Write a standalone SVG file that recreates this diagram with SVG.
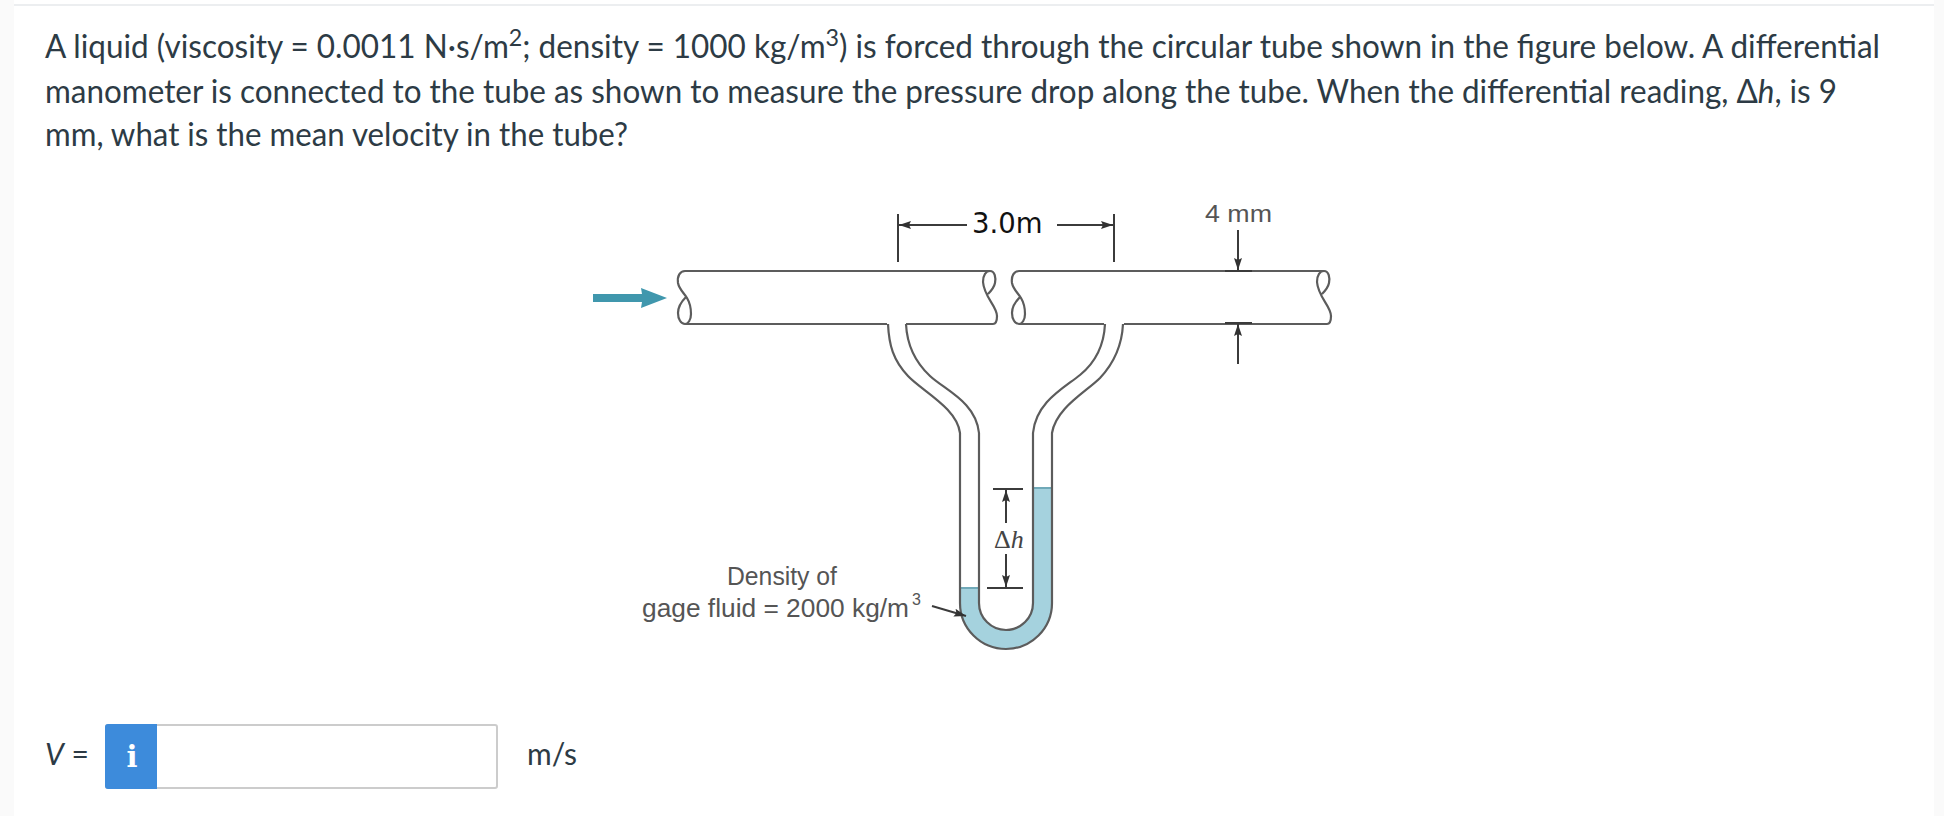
<svg xmlns="http://www.w3.org/2000/svg" width="1944" height="816" viewBox="0 0 1944 816">
<style>
.q{font-family:"Lato","Liberation Sans",sans-serif;font-size:32.5px;fill:#2d3b45}
.a{font-family:"Lato","Liberation Sans",sans-serif;font-size:30px;fill:#2d3b45}
.fig{font-family:"Liberation Sans",Arial,sans-serif;fill:#555}
.t{fill:none;stroke:#5c5c5c;stroke-width:2.2;stroke-linejoin:round}
.d{fill:none;stroke:#3a3a3a;stroke-width:2}
</style>
<defs>
<marker id="a" markerWidth="14" markerHeight="10" refX="12" refY="4" orient="auto" markerUnits="userSpaceOnUse"><path d="M0,0L12,4L0,8L2,4Z" fill="#333"/></marker>
<filter id="soft" x="-5%" y="-5%" width="110%" height="110%"><feGaussianBlur stdDeviation="0.45"/></filter>
<path id="endL" class="t" d="M685,271C680,271 677,276 678,283C679,289 684,293 687,298C690,303 691,309 691,314C691,320 688,324 685,324C681,324 678,319 678,313C678,307 681,302 686,297"/>
<path id="endR" class="t" d="M993,324C996,324 997,321 997,316C997,306 984,297 983,282C983,275 986,271 990,271C995,271 996,278 995,283C994,288 991,291 988,294"/>
</defs>
<rect width="1944" height="816" fill="#fff"/>
<rect x="0" y="0" width="14" height="816" fill="#fafafa"/>
<rect x="1934" y="0" width="10" height="816" fill="#fafafa"/>
<rect x="14" y="4" width="1920" height="2" fill="#eceef0"/>
<g id="question">
<text class="q" x="45" y="58" textLength="1835" lengthAdjust="spacingAndGlyphs">A liquid (viscosity = 0.0011 N·s/m<tspan dy="-12" font-size="24">2</tspan><tspan dy="12">; density = 1000 kg/m</tspan><tspan dy="-12" font-size="24">3</tspan><tspan dy="12">) is forced through the circular tube shown in the figure below. A differential</tspan></text>
<text class="q" x="45" y="103" textLength="1792" lengthAdjust="spacingAndGlyphs">manometer is connected to the tube as shown to measure the pressure drop along the tube. When the differential reading, Δ<tspan font-style="italic">h</tspan>, is 9</text>
<text class="q" x="45" y="146" textLength="583" lengthAdjust="spacingAndGlyphs">mm, what is the mean velocity in the tube?</text>
</g>
<g id="figure" filter="url(#soft)">
<g id="manometer-fluid">
<path d="M960,588H979V603A27,27 0 0 0 1033,603V488H1052V603A46,46 0 0 1 960,603Z" fill="#a5d2de"/>
<path d="M960,588H979M1033,488H1052" stroke="#6fa9b8" stroke-width="2"/>
</g>
<g id="pipe-left">
<path class="t" d="M685,271H990M993,324H906M887,324H685"/>
<use href="#endL"/>
<use href="#endR"/>
</g>
<g id="pipe-right">
<path class="t" d="M1019,271H1324M1327,324H1124M1104,324H1019"/>
<use href="#endL" x="334"/>
<use href="#endR" x="334"/>
</g>
<g id="u-tube">
<path class="t" d="M888,324C889,345 893,360 908,376C922,391 957,408 960,433V603A46,46 0 0 0 1052,603V433C1056,408 1086,392 1100,378C1115,362 1122,345 1123,324"/>
<path class="t" d="M906,324C907,345 915,362 930,376C945,390 976,402 979,433V603A27,27 0 0 0 1033,603V433C1036,402 1064,388 1080,375C1096,362 1104,345 1105,324"/>
</g>
<g id="flow-arrow">
<path d="M593,294H642L641,288L667,298L641,308L642,302H593Z" fill="#3f97ad"/>
</g>
<g id="connectors">
<path class="d" d="M898,214V262M1114,214V262"/>
<path class="d" marker-end="url(#a)" d="M967,225H899"/>
<path class="d" marker-end="url(#a)" d="M1057,225H1113"/>
<path class="d" marker-end="url(#a)" d="M1238,230V270"/>
<path class="d" marker-end="url(#a)" d="M1238,364V324"/>
<path class="d" d="M1225,271H1252M1225,323H1252"/>
<path class="d" d="M993,489H1023M987,588H1023"/>
<path class="d" marker-end="url(#a)" d="M1006,523V490"/>
<path class="d" marker-end="url(#a)" d="M1006,554V587"/>
<path class="d" marker-end="url(#a)" d="M932,606L966,616"/>
</g>
</g>
<g id="label-length"><text x="972" y="233" font-family="DejaVu Sans,sans-serif" font-size="27.5" fill="#111">3.0m</text></g>
<g id="label-diameter"><text class="fig" x="1205" y="222" font-size="24" textLength="67" lengthAdjust="spacingAndGlyphs">4 mm</text></g>
<g id="label-dh"><text x="994" y="548" font-family="Liberation Serif,serif" font-size="26" fill="#444">Δ<tspan font-style="italic">h</tspan></text></g>
<g id="label-density">
<text class="fig" x="727" y="585" font-size="25" textLength="110" lengthAdjust="spacingAndGlyphs">Density of</text>
<text class="fig" x="642" y="617" font-size="25" textLength="267" lengthAdjust="spacingAndGlyphs">gage fluid = 2000 kg/m</text>
<text class="fig" x="912" y="605" font-size="16">3</text>
</g>
<g id="answer">
<text class="a" x="45" y="765"><tspan font-style="italic">V</tspan> =</text>
<rect x="106" y="725" width="391" height="63" rx="2" fill="#fff" stroke="#ccc" stroke-width="2"/>
<path d="M108,724H157V789H108A3,3 0 0 1 105,786V727A3,3 0 0 1 108,724Z" fill="#3d8bdb"/>
<text x="132" y="767" text-anchor="middle" font-family="DejaVu Serif,serif" font-weight="bold" font-size="29" fill="#fff">i</text>
<text class="a" x="527" y="765">m/s</text>
</g>
</svg>
